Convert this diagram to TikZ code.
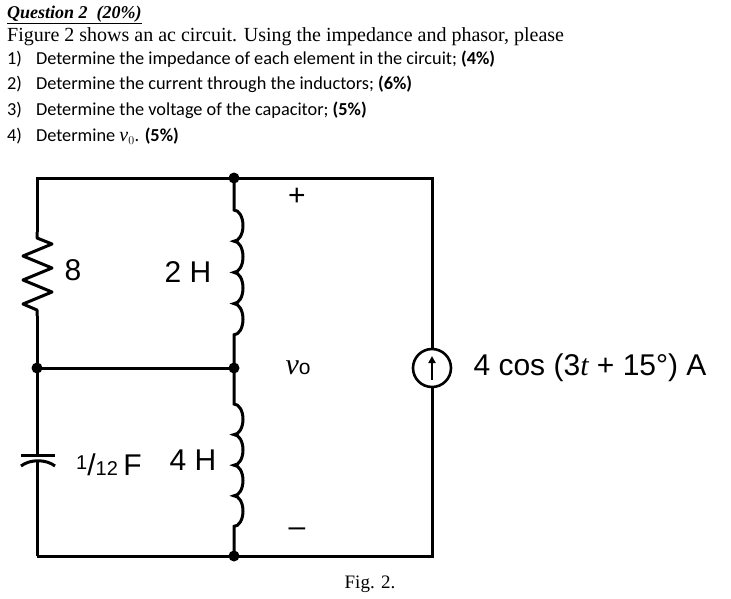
\documentclass[tikz,border=0pt]{standalone}
\usepackage{fontspec}
\setmainfont{Liberation Serif}
\newfontfamily\calfnt{Carlito}
\newfontfamily\hel{Liberation Sans}
\usetikzlibrary{arrows.meta}
\begin{document}
\begin{tikzpicture}[x=1pt,y=-1pt,
  wire/.style={line width=3pt},
  dot/.style={circle,fill=black,inner sep=0pt,minimum size=11pt},
  lbl/.style={font=\hel\fontsize{30}{32}\selectfont},
  item/.style={anchor=west,font=\calfnt\fontsize{18.3}{20}\selectfont,inner sep=0pt}]
\useasboundingbox (0,0) rectangle (731,598);
% text
\node[anchor=west,inner sep=0pt,font=\fontsize{18}{20}\selectfont\bfseries\itshape] (q) at (7,15) {\underline{Question 2\ \ (20\%)}};
\node[anchor=west,inner sep=0pt,font=\fontsize{20}{22}\selectfont] (t) at (7,37) {Figure 2 shows an ac circuit. Using the impedance and phasor, please};
\node[item] (i1) at (7,59) {1)\hspace{14pt}Determine the impedance of each element in the circuit; \textbf{(4\%)}};
\node[item] (i2) at (7,84) {2)\hspace{14pt}Determine the current through the inductors; \textbf{(6\%)}};
\node[item] (i3) at (7,110) {3)\hspace{14pt}Determine the voltage of the capacitor; \textbf{(5\%)}};
\node[item] (i4) at (7,136) {4)\hspace{14pt}Determine {\rmfamily\itshape\fontsize{20}{22}\selectfont v}$_0$. \textbf{(5\%)}};
% nodes
\coordinate (tl) at (37,178); \coordinate (tm) at (234,178); \coordinate (tr) at (432,178);
\coordinate (ml) at (37,368); \coordinate (mm) at (234,368);
\coordinate (bl) at (37,556); \coordinate (bm) at (234,556); \coordinate (br) at (432,556);
\node[circle,draw,line width=2.6pt,minimum size=38pt,inner sep=0pt] (src) at (432,368) {};
% wires
\draw[wire] (bl) -- (tl) -- (tr) -- (src.north);
\draw[wire] (src.south) -- (br) -- (bl);
\draw[wire] (ml) -- (mm);
% resistor
\fill[white] (20,232) rectangle (56,316);
\draw[wire,line join=round] (37,232) -- (37,238) -- (52,244) -- (23,256) -- (52,268) -- (23,280) -- (52,292) -- (23,304) -- (37,310) -- (37,316);
% inductors
\draw[wire] (tm) -- (234,210)
  arc[start angle=-90,end angle=90,x radius=9,y radius=15.6]
  arc[start angle=-90,end angle=90,x radius=9,y radius=15.6]
  arc[start angle=-90,end angle=90,x radius=9,y radius=15.6]
  arc[start angle=-90,end angle=90,x radius=9,y radius=15.6] -- (mm);
\draw[wire] (mm) -- (234,404)
  arc[start angle=-90,end angle=90,x radius=9,y radius=15.3]
  arc[start angle=-90,end angle=90,x radius=9,y radius=15.3]
  arc[start angle=-90,end angle=90,x radius=9,y radius=15.3]
  arc[start angle=-90,end angle=90,x radius=9,y radius=15.3] -- (bm);
% capacitor
\fill[white] (20,452) rectangle (56,470);
\draw[wire] (21,455) -- (55,455);
\draw[wire] (21,466) .. controls (30,459) and (46,459) .. (55,466);
\draw[wire] (37,452) -- (37,455); \draw[wire] (37,461) -- (37,470);
% dots
\foreach \p in {tm,ml,mm,bm} \node[dot] at (\p) {};
% source arrow
\draw[line width=1.8pt,-{Triangle[length=7pt,width=7pt]}] (432,380) -- (432,356);
% labels
\node[lbl] (l8) at (73,270) {8};
\node[lbl] (l2h) at (188,272) {2 H};
\node[lbl] (l4h) at (193,460) {4 H};
\node[lbl] (lc) at (109,465) {\raisebox{6pt}{\fontsize{20}{20}\selectfont 1}/\fontsize{20}{20}\selectfont 12 \fontsize{30}{32}\selectfont F};
\node[lbl] (plus) at (297,197) {+};
\node[lbl] (minus) at (297,532) {\textendash};
\node[font=\fontsize{30}{32}\selectfont] (vo) at (298,368) {\itshape v\hel\fontsize{21}{21}\selectfont\upshape o};
\node[lbl,anchor=west] (srcl) at (470,368) {4 cos (3{\rmfamily\itshape t} + 15°) A};
\node[font=\fontsize{19}{21}\selectfont] (fig) at (370,584) {Fig. 2.};
\end{tikzpicture}
\end{document}
